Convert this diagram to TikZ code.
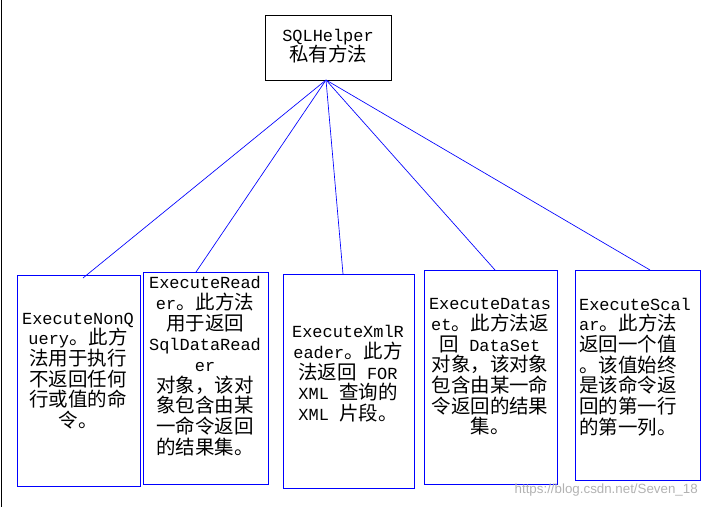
\documentclass[tikz,border=0pt]{standalone}
\usepackage{fontspec}
\setmainfont{Liberation Mono}
\newfontfamily\cjk[Scale=1.15]{Noto Sans CJK SC}
\newcommand{\C}[1]{{\cjk #1}}
\begin{document}
\begin{tikzpicture}[x=0.75pt,y=-0.75pt,
  box/.style={draw=blue,line width=0.6pt},
  lbl/.style={font=\fontsize{12.7}{15.5}\selectfont,align=center,inner sep=0pt},
  link/.style={draw=blue,line width=0.5pt}]
\useasboundingbox (0,0) rectangle (705,507);
\draw[black,line width=0.6pt] (1,0) -- (1,507);
\draw[black,line width=0.6pt] (265,15) rectangle (391,80);
\node[lbl] (top) at (328,46) {SQLHelper\\\C{私有方法}};
\coordinate (s) at (326,80);
\draw[box] (17,275) rectangle (140,486);
\draw[box] (143,272) rectangle (268,484);
\draw[box] (283,274) rectangle (414,488);
\draw[box] (424,270) rectangle (557,484);
\draw[box] (575,270) rectangle (700,480);
\coordinate (e1) at (83,278);
\coordinate (e2) at (196,272);
\coordinate (e3) at (343,274);
\coordinate (e4) at (495,270);
\coordinate (e5) at (650,270);
\draw[link] (s) -- (e1);
\draw[link] (s) -- (e2);
\draw[link] (s) -- (e3);
\draw[link] (s) -- (e4);
\draw[link] (s) -- (e5);
\node[lbl] (t1) at (78,371) {ExecuteNonQ\\uery\C{。此方}\\\C{法用于执行}\\\C{不返回任何}\\\C{行或值的命}\\\C{令。}};
\node[lbl] (t2) at (205,366) {ExecuteRead\\er\C{。此方法}\\\C{用于返回}\\SqlDataRead\\er\\\C{对象，该对}\\\C{象包含由某}\\\C{一命令返回}\\\C{的结果集。}};
\node[lbl] (t3) at (348,374) {ExecuteXmlR\\eader\C{。此方}\\\C{法返回} FOR\\XML \C{查询的}\\XML \C{片段。}};
\node[lbl] (t4) at (490,367) {ExecuteDatas\\et\C{。此方法返}\\\C{回} DataSet\\\C{对象，该对象}\\\C{包含由某一命}\\\C{令返回的结果}\\\C{集。}};
\node[lbl,align=left] (t5) at (635,367) {ExecuteScal\\ar\C{。此方法}\\\C{返回一个值}\\\C{。该值始终}\\\C{是该命令返}\\\C{回的第一行}\\\C{的第一列。}};
\node[font=\fontsize{10}{12}\selectfont,text=gray!60,inner sep=0pt,anchor=east] (wm) at (698,490) {\fontspec{Liberation Sans}https://blog.csdn.net/Seven\_18};
\end{tikzpicture}
\end{document}
